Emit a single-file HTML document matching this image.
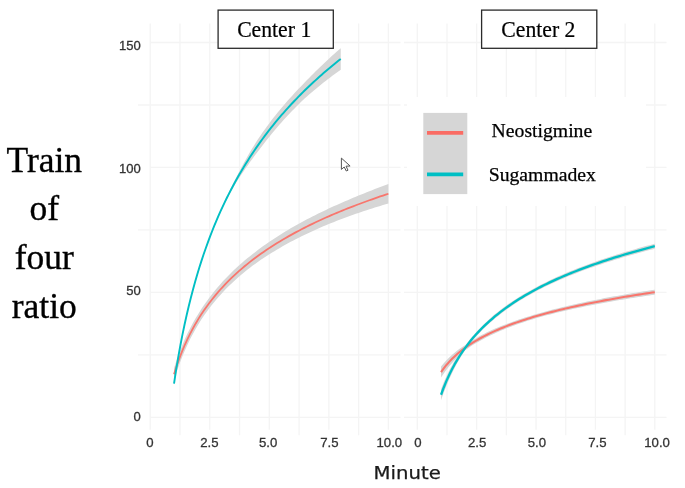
<!DOCTYPE html>
<html><head><meta charset="utf-8"><title>Train of four ratio</title>
<style>
html,body{margin:0;padding:0;background:#fff;}
body{width:685px;height:488px;overflow:hidden;position:relative;}
</style></head><body>
<svg width="685" height="488" viewBox="0 0 685 488" style="position:absolute;left:0;top:0">
<g stroke="#f4f4f4" stroke-width="1.3" fill="none"><line x1="150.20" y1="23.5" x2="150.20" y2="429.7"/><line x1="179.97" y1="23.5" x2="179.97" y2="435.3"/><line x1="209.75" y1="23.5" x2="209.75" y2="429.7"/><line x1="239.52" y1="23.5" x2="239.52" y2="435.3"/><line x1="269.30" y1="23.5" x2="269.30" y2="429.7"/><line x1="299.07" y1="23.5" x2="299.07" y2="435.3"/><line x1="328.85" y1="23.5" x2="328.85" y2="429.7"/><line x1="358.62" y1="23.5" x2="358.62" y2="435.3"/><line x1="388.40" y1="23.5" x2="388.40" y2="429.7"/><line x1="150" y1="417.40" x2="400.5" y2="417.40"/><line x1="138" y1="354.92" x2="400.5" y2="354.92"/><line x1="150" y1="292.44" x2="400.5" y2="292.44"/><line x1="138" y1="229.95" x2="400.5" y2="229.95"/><line x1="150" y1="167.47" x2="400.5" y2="167.47"/><line x1="138" y1="104.99" x2="400.5" y2="104.99"/><line x1="150" y1="42.50" x2="400.5" y2="42.50"/><line x1="417.30" y1="23.5" x2="417.30" y2="429.7"/><line x1="446.99" y1="23.5" x2="446.99" y2="435.3"/><line x1="476.68" y1="23.5" x2="476.68" y2="429.7"/><line x1="506.36" y1="23.5" x2="506.36" y2="435.3"/><line x1="536.05" y1="23.5" x2="536.05" y2="429.7"/><line x1="565.74" y1="23.5" x2="565.74" y2="435.3"/><line x1="595.42" y1="23.5" x2="595.42" y2="429.7"/><line x1="625.11" y1="23.5" x2="625.11" y2="435.3"/><line x1="654.80" y1="23.5" x2="654.80" y2="429.7"/><line x1="404" y1="417.40" x2="666.5" y2="417.40"/><line x1="404" y1="354.92" x2="666.5" y2="354.92"/><line x1="404" y1="292.44" x2="666.5" y2="292.44"/><line x1="404" y1="229.95" x2="666.5" y2="229.95"/><line x1="404" y1="167.47" x2="666.5" y2="167.47"/><line x1="404" y1="104.99" x2="666.5" y2="104.99"/><line x1="404" y1="42.50" x2="666.5" y2="42.50"/></g>
<rect x="407" y="97" width="239" height="109" fill="#ffffff"/>
<polygon points="174.02,382.39 176.13,368.63 178.24,355.99 180.35,344.30 182.46,333.42 184.57,323.27 186.68,313.74 188.79,304.77 190.91,296.29 193.02,288.26 195.13,280.63 197.24,273.37 199.35,266.44 201.46,259.81 203.57,253.45 205.68,247.36 207.79,241.50 209.90,235.86 212.01,230.42 214.12,225.17 216.23,220.11 218.34,215.20 220.45,210.45 222.56,205.77 224.68,201.12 226.79,196.60 228.90,192.20 231.01,187.92 233.12,183.74 235.23,179.49 237.34,175.30 239.45,171.19 241.56,167.18 243.67,163.25 245.78,159.40 247.89,155.63 250.00,152.08 252.11,148.60 254.22,145.18 256.33,141.83 258.45,138.55 260.56,135.38 262.67,132.37 264.78,129.41 266.89,126.51 269.00,123.66 271.11,120.86 273.22,118.11 275.33,115.43 277.44,112.82 279.55,110.24 281.66,107.71 283.77,105.22 285.88,102.77 287.99,100.36 290.10,97.99 292.22,95.65 294.33,93.34 296.44,91.07 298.55,88.83 300.66,86.63 302.77,84.45 304.88,82.31 306.99,80.10 309.10,77.92 311.21,75.77 313.32,73.64 315.43,71.54 317.54,69.47 319.65,67.42 321.76,65.39 323.87,63.39 325.99,61.41 328.10,59.45 330.21,57.52 332.32,55.61 334.43,53.71 336.54,51.84 338.65,49.99 340.76,48.16 340.76,69.65 338.65,71.16 336.54,72.69 334.43,74.23 332.32,75.80 330.21,77.39 328.10,79.00 325.99,80.63 323.87,82.28 321.76,83.96 319.65,85.66 317.54,87.39 315.43,89.14 313.32,90.91 311.21,92.71 309.10,94.54 306.99,96.40 304.88,98.29 302.77,100.30 300.66,102.34 298.55,104.41 296.44,106.51 294.33,108.65 292.22,110.81 290.10,113.02 287.99,115.26 285.88,117.53 283.77,119.85 281.66,122.20 279.55,124.60 277.44,127.03 275.33,129.51 273.22,132.02 271.11,134.55 269.00,137.13 266.89,139.76 264.78,142.44 262.67,145.17 260.56,147.96 258.45,150.71 256.33,153.46 254.22,156.28 252.11,159.16 250.00,162.12 247.89,165.14 245.78,168.10 243.67,171.13 241.56,174.25 239.45,177.45 237.34,180.74 235.23,184.13 233.12,187.67 231.01,191.48 228.90,195.41 226.79,199.46 224.68,203.63 222.56,207.92 220.45,212.47 218.34,217.24 216.23,222.16 214.12,227.25 212.01,232.52 209.90,237.98 207.79,243.64 205.68,249.52 203.57,255.64 201.46,262.02 199.35,268.67 197.24,275.63 195.13,282.91 193.02,290.56 190.91,298.62 188.79,307.11 186.68,316.11 184.57,325.66 182.46,335.83 180.35,346.73 178.24,358.44 176.13,371.11 174.02,384.89" fill="#d6d6d6"/>
<polygon points="174.02,368.19 176.73,359.82 179.45,352.28 182.16,345.41 184.87,339.11 187.59,333.29 190.30,327.88 193.02,322.84 195.73,318.11 198.44,313.63 201.16,309.35 203.87,305.28 206.58,301.41 209.30,297.73 212.01,294.18 214.73,290.78 217.44,287.52 220.15,284.39 222.87,281.37 225.58,278.46 228.29,275.66 231.01,272.95 233.72,270.33 236.43,267.79 239.15,265.33 241.86,262.94 244.58,260.62 247.29,258.36 250.00,256.17 252.72,254.00 255.43,251.88 258.14,249.81 260.86,247.80 263.57,245.83 266.28,243.90 269.00,242.02 271.71,240.18 274.43,238.39 277.14,236.63 279.85,234.90 282.57,233.21 285.28,231.56 287.99,229.93 290.71,228.34 293.42,226.78 296.14,225.24 298.85,223.73 301.56,222.24 304.28,220.78 306.99,219.34 309.70,217.92 312.42,216.53 315.13,215.16 317.84,213.81 320.56,212.48 323.27,211.17 325.99,209.88 328.70,208.61 331.41,207.35 334.13,206.12 336.84,204.90 339.55,203.70 342.27,202.51 344.98,201.34 347.69,200.18 350.41,199.02 353.12,197.86 355.84,196.72 358.55,195.59 361.26,194.48 363.98,193.38 366.69,192.29 369.40,191.21 372.12,190.14 374.83,189.09 377.55,188.05 380.26,187.02 382.97,186.00 385.69,184.99 388.40,183.99 388.40,203.49 385.69,204.29 382.97,205.09 380.26,205.91 377.55,206.74 374.83,207.58 372.12,208.43 369.40,209.30 366.69,210.17 363.98,211.06 361.26,211.96 358.55,212.88 355.84,213.80 353.12,214.74 350.41,215.70 347.69,216.67 344.98,217.68 342.27,218.71 339.55,219.75 336.84,220.81 334.13,221.89 331.41,222.98 328.70,224.10 325.99,225.22 323.27,226.37 320.56,227.54 317.84,228.73 315.13,229.94 312.42,231.16 309.70,232.42 306.99,233.69 304.28,234.99 301.56,236.31 298.85,237.66 296.14,239.03 293.42,240.44 290.71,241.87 287.99,243.34 285.28,244.83 282.57,246.35 279.85,247.91 277.14,249.50 274.43,251.13 271.71,252.80 269.00,254.50 266.28,256.24 263.57,258.02 260.86,259.85 258.14,261.72 255.43,263.65 252.72,265.62 250.00,267.66 247.29,269.79 244.58,271.97 241.86,274.23 239.15,276.55 236.43,278.94 233.72,281.42 231.01,283.97 228.29,286.61 225.58,289.35 222.87,292.19 220.15,295.14 217.44,298.21 214.73,301.40 212.01,304.74 209.30,308.23 206.58,311.91 203.87,315.78 201.16,319.84 198.44,324.13 195.73,328.74 193.02,333.64 190.30,338.85 187.59,344.43 184.87,350.42 182.16,356.89 179.45,363.93 176.73,371.65 174.02,380.19" fill="#d6d6d6"/>
<polygon points="441.05,389.25 443.76,382.32 446.46,376.13 449.17,370.54 451.87,365.46 454.58,360.81 457.28,356.52 459.99,352.55 462.70,348.86 465.40,345.34 468.11,341.75 470.81,338.36 473.52,335.14 476.22,332.08 478.93,329.16 481.64,326.38 484.34,323.72 487.05,321.16 489.75,318.71 492.46,316.35 495.16,314.08 497.87,311.89 500.58,309.78 503.28,307.74 505.99,305.76 508.69,303.85 511.40,301.99 514.10,300.20 516.81,298.45 519.52,296.75 522.22,295.10 524.93,293.49 527.63,291.93 530.34,290.40 533.04,288.91 535.75,287.46 538.46,286.03 541.16,284.62 543.87,283.25 546.57,281.90 549.28,280.59 551.98,279.30 554.69,278.04 557.39,276.81 560.10,275.60 562.81,274.41 565.51,273.25 568.22,272.10 570.92,270.98 573.63,269.88 576.33,268.80 579.04,267.74 581.75,266.69 584.45,265.67 587.16,264.66 589.86,263.67 592.57,262.69 595.27,261.73 597.98,260.78 600.69,259.85 603.39,258.93 606.10,258.03 608.80,257.14 611.51,256.26 614.21,255.39 616.92,254.54 619.63,253.70 622.33,252.87 625.04,252.05 627.74,251.24 630.45,250.44 633.15,249.66 635.86,248.88 638.57,248.11 641.27,247.36 643.98,246.61 646.68,245.87 649.39,245.14 652.09,244.42 654.80,243.71 654.80,248.71 652.09,249.40 649.39,250.09 646.68,250.80 643.98,251.52 641.27,252.24 638.57,252.98 635.86,253.72 633.15,254.47 630.45,255.24 627.74,256.01 625.04,256.80 622.33,257.59 619.63,258.40 616.92,259.22 614.21,260.05 611.51,260.89 608.80,261.75 606.10,262.61 603.39,263.50 600.69,264.39 597.98,265.30 595.27,266.22 592.57,267.16 589.86,268.12 587.16,269.09 584.45,270.07 581.75,271.08 579.04,272.10 576.33,273.14 573.63,274.20 570.92,275.28 568.22,276.37 565.51,277.49 562.81,278.64 560.10,279.80 557.39,280.99 554.69,282.20 551.98,283.44 549.28,284.70 546.57,285.99 543.87,287.31 541.16,288.66 538.46,290.04 535.75,291.46 533.04,292.93 530.34,294.44 527.63,295.98 524.93,297.57 522.22,299.19 519.52,300.86 516.81,302.58 514.10,304.35 511.40,306.17 508.69,308.04 505.99,309.97 503.28,311.97 500.58,314.03 497.87,316.16 495.16,318.37 492.46,320.66 489.75,323.03 487.05,325.50 484.34,328.08 481.64,330.76 478.93,333.56 476.22,336.50 473.52,339.58 470.81,342.81 468.11,346.23 465.40,349.83 462.70,353.94 459.99,358.37 457.28,363.07 454.58,368.10 451.87,373.49 449.17,379.31 446.46,385.64 443.76,392.58 441.05,400.25" fill="#d6d6d6"/>
<polygon points="441.05,366.57 443.76,363.17 446.46,360.13 449.17,357.40 451.87,354.91 454.58,352.64 457.28,350.55 459.99,348.62 462.70,346.83 465.40,345.09 468.11,343.21 470.81,341.43 473.52,339.74 476.22,338.13 478.93,336.59 481.64,335.12 484.34,333.71 487.05,332.35 489.75,331.05 492.46,329.80 495.16,328.59 497.87,327.42 500.58,326.30 503.28,325.21 505.99,324.15 508.69,323.13 511.40,322.13 514.10,321.17 516.81,320.23 519.52,319.32 522.22,318.43 524.93,317.57 527.63,316.73 530.34,315.91 533.04,315.10 535.75,314.32 538.46,313.53 541.16,312.75 543.87,311.99 546.57,311.25 549.28,310.52 551.98,309.80 554.69,309.10 557.39,308.41 560.10,307.74 562.81,307.07 565.51,306.42 568.22,305.78 570.92,305.16 573.63,304.54 576.33,303.93 579.04,303.33 581.75,302.75 584.45,302.17 587.16,301.60 589.86,301.04 592.57,300.49 595.27,299.95 597.98,299.41 600.69,298.89 603.39,298.37 606.10,297.85 608.80,297.35 611.51,296.85 614.21,296.36 616.92,295.88 619.63,295.40 622.33,294.92 625.04,294.46 627.74,294.00 630.45,293.54 633.15,293.09 635.86,292.65 638.57,292.21 641.27,291.78 643.98,291.35 646.68,290.93 649.39,290.51 652.09,290.10 654.80,289.69 654.80,294.69 652.09,295.07 649.39,295.46 646.68,295.86 643.98,296.26 641.27,296.66 638.57,297.07 635.86,297.49 633.15,297.91 630.45,298.34 627.74,298.77 625.04,299.21 622.33,299.65 619.63,300.10 616.92,300.55 614.21,301.02 611.51,301.49 608.80,301.96 606.10,302.44 603.39,302.93 600.69,303.43 597.98,303.93 595.27,304.45 592.57,304.97 589.86,305.49 587.16,306.03 584.45,306.58 581.75,307.13 579.04,307.70 576.33,308.27 573.63,308.85 570.92,309.45 568.22,310.05 565.51,310.67 562.81,311.30 560.10,311.94 557.39,312.59 554.69,313.25 551.98,313.93 549.28,314.63 546.57,315.33 543.87,316.06 541.16,316.79 538.46,317.55 535.75,318.32 533.04,319.14 530.34,319.98 527.63,320.84 524.93,321.72 522.22,322.63 519.52,323.55 516.81,324.50 514.10,325.48 511.40,326.48 508.69,327.51 505.99,328.57 503.28,329.67 500.58,330.79 497.87,331.96 495.16,333.16 492.46,334.41 489.75,335.70 487.05,337.04 484.34,338.43 481.64,339.88 478.93,341.39 476.22,342.97 473.52,344.61 470.81,346.35 468.11,348.16 465.40,350.08 462.70,352.36 459.99,354.83 457.28,357.45 454.58,360.22 451.87,363.18 449.17,366.34 446.46,369.76 443.76,373.48 441.05,377.57" fill="#d6d6d6"/>
<polyline points="174.02,374.19 176.73,365.73 179.45,358.10 182.16,351.15 184.87,344.76 187.59,338.86 190.30,333.37 193.02,328.24 195.73,323.42 198.44,318.88 201.16,314.59 203.87,310.53 206.58,306.66 209.30,302.98 212.01,299.46 214.73,296.09 217.44,292.87 220.15,289.76 222.87,286.78 225.58,283.91 228.29,281.14 231.01,278.46 233.72,275.87 236.43,273.37 239.15,270.94 241.86,268.58 244.58,266.30 247.29,264.07 250.00,261.91 252.72,259.81 255.43,257.76 258.14,255.77 260.86,253.82 263.57,251.92 266.28,250.07 269.00,248.26 271.71,246.49 274.43,244.76 277.14,243.07 279.85,241.41 282.57,239.78 285.28,238.19 287.99,236.64 290.71,235.11 293.42,233.61 296.14,232.14 298.85,230.69 301.56,229.28 304.28,227.88 306.99,226.51 309.70,225.17 312.42,223.85 315.13,222.55 317.84,221.27 320.56,220.01 323.27,218.77 325.99,217.55 328.70,216.35 331.41,215.17 334.13,214.00 336.84,212.86 339.55,211.73 342.27,210.61 344.98,209.51 347.69,208.43 350.41,207.36 353.12,206.30 355.84,205.26 358.55,204.23 361.26,203.22 363.98,202.22 366.69,201.23 369.40,200.25 372.12,199.29 374.83,198.34 377.55,197.40 380.26,196.47 382.97,195.55 385.69,194.64 388.40,193.74" fill="none" stroke="#F8766D" stroke-width="1.8" stroke-linejoin="round"/>
<polyline points="174.02,383.64 176.13,369.87 178.24,357.21 180.35,345.51 182.46,334.63 184.57,324.46 186.68,314.92 188.79,305.94 190.91,297.45 193.02,289.41 195.13,281.77 197.24,274.50 199.35,267.55 201.46,260.91 203.57,254.55 205.68,248.44 207.79,242.57 209.90,236.92 212.01,231.47 214.12,226.21 216.23,221.13 218.34,216.22 220.45,211.46 222.56,206.85 224.68,202.37 226.79,198.03 228.90,193.81 231.01,189.70 233.12,185.70 235.23,181.81 237.34,178.02 239.45,174.32 241.56,170.71 243.67,167.19 245.78,163.75 247.89,160.39 250.00,157.10 252.11,153.88 254.22,150.73 256.33,147.65 258.45,144.63 260.56,141.67 262.67,138.77 264.78,135.93 266.89,133.13 269.00,130.40 271.11,127.71 273.22,125.07 275.33,122.47 277.44,119.92 279.55,117.42 281.66,114.96 283.77,112.54 285.88,110.15 287.99,107.81 290.10,105.50 292.22,103.23 294.33,100.99 296.44,98.79 298.55,96.62 300.66,94.48 302.77,92.38 304.88,90.30 306.99,88.25 309.10,86.23 311.21,84.24 313.32,82.28 315.43,80.34 317.54,78.43 319.65,76.54 321.76,74.68 323.87,72.84 325.99,71.02 328.10,69.23 330.21,67.45 332.32,65.70 334.43,63.97 336.54,62.26 338.65,60.58 340.76,58.91" fill="none" stroke="#00BFC4" stroke-width="1.9" stroke-linejoin="round"/>
<polyline points="441.05,372.07 443.76,368.33 446.46,364.95 449.17,361.87 451.87,359.04 454.58,356.43 457.28,354.00 459.99,351.73 462.70,349.60 465.40,347.59 468.11,345.69 470.81,343.89 473.52,342.18 476.22,340.55 478.93,338.99 481.64,337.50 484.34,336.07 487.05,334.70 489.75,333.38 492.46,332.10 495.16,330.88 497.87,329.69 500.58,328.55 503.28,327.44 505.99,326.36 508.69,325.32 511.40,324.31 514.10,323.32 516.81,322.37 519.52,321.44 522.22,320.53 524.93,319.65 527.63,318.79 530.34,317.94 533.04,317.12 535.75,316.32 538.46,315.54 541.16,314.77 543.87,314.02 546.57,313.29 549.28,312.57 551.98,311.87 554.69,311.18 557.39,310.50 560.10,309.84 562.81,309.18 565.51,308.55 568.22,307.92 570.92,307.30 573.63,306.70 576.33,306.10 579.04,305.52 581.75,304.94 584.45,304.37 587.16,303.82 589.86,303.27 592.57,302.73 595.27,302.20 597.98,301.67 600.69,301.16 603.39,300.65 606.10,300.15 608.80,299.66 611.51,299.17 614.21,298.69 616.92,298.22 619.63,297.75 622.33,297.29 625.04,296.83 627.74,296.38 630.45,295.94 633.15,295.50 635.86,295.07 638.57,294.64 641.27,294.22 643.98,293.81 646.68,293.39 649.39,292.99 652.09,292.58 654.80,292.19" fill="none" stroke="#F8766D" stroke-width="2.1" stroke-linejoin="round"/>
<polyline points="441.05,394.75 443.76,387.45 446.46,380.88 449.17,374.93 451.87,369.48 454.58,364.45 457.28,359.80 459.99,355.46 462.70,351.40 465.40,347.58 468.11,343.99 470.81,340.59 473.52,337.36 476.22,334.29 478.93,331.36 481.64,328.57 484.34,325.90 487.05,323.33 489.75,320.87 492.46,318.51 495.16,316.23 497.87,314.03 500.58,311.90 503.28,309.85 505.99,307.87 508.69,305.94 511.40,304.08 514.10,302.27 516.81,300.51 519.52,298.81 522.22,297.15 524.93,295.53 527.63,293.95 530.34,292.42 533.04,290.92 535.75,289.46 538.46,288.03 541.16,286.64 543.87,285.28 546.57,283.95 549.28,282.64 551.98,281.37 554.69,280.12 557.39,278.90 560.10,277.70 562.81,276.52 565.51,275.37 568.22,274.24 570.92,273.13 573.63,272.04 576.33,270.97 579.04,269.92 581.75,268.89 584.45,267.87 587.16,266.87 589.86,265.89 592.57,264.93 595.27,263.98 597.98,263.04 600.69,262.12 603.39,261.21 606.10,260.32 608.80,259.44 611.51,258.57 614.21,257.72 616.92,256.88 619.63,256.05 622.33,255.23 625.04,254.42 627.74,253.63 630.45,252.84 633.15,252.07 635.86,251.30 638.57,250.55 641.27,249.80 643.98,249.06 646.68,248.34 649.39,247.62 652.09,246.91 654.80,246.21" fill="none" stroke="#00BFC4" stroke-width="2.3" stroke-linejoin="round"/>
<rect x="423.3" y="112.9" width="44" height="81.2" fill="#d6d6d6"/>
<line x1="427" y1="132.9" x2="463.2" y2="132.9" stroke="#fa6c64" stroke-width="3.8"/>
<line x1="427" y1="174.3" x2="463.2" y2="174.3" stroke="#00BFC4" stroke-width="3.8"/>
<g font-family="Liberation Serif, serif" font-size="19.7" fill="#000" stroke="#000" stroke-width="0.25" text-anchor="middle">
<text x="541.9" y="137.3">Neostigmine</text>
<text x="542.3" y="181">Sugammadex</text>
</g>
<rect x="218.1" y="10.1" width="115.2" height="38.2" fill="#fff" stroke="#2b2b2b" stroke-width="1.3"/>
<rect x="481.6" y="10.1" width="115.2" height="38.2" fill="#fff" stroke="#2b2b2b" stroke-width="1.3"/>
<g font-family="Liberation Serif, serif" font-size="21.5" fill="#000" stroke="#000" stroke-width="0.2" text-anchor="middle">
<text transform="translate(274.2,37) scale(1.01,1.07)">Center 1</text>
<text transform="translate(538.4,37) scale(1.01,1.07)">Center 2</text>
</g>
<g font-family="Liberation Sans, sans-serif" font-size="13.6" fill="#333" stroke="#333" stroke-width="0.3">
<text transform="translate(140.8,49.5) scale(0.96,1)" text-anchor="end">150</text>
<text transform="translate(140.8,172.6) scale(0.96,1)" text-anchor="end">100</text>
<text transform="translate(140.8,294.6) scale(0.96,1)" text-anchor="end">50</text>
<text transform="translate(140.8,420.7) scale(0.96,1)" text-anchor="end">0</text>
<text transform="translate(149.79999999999998,447.4) scale(0.97,1)" text-anchor="middle">0</text>
<text transform="translate(209.29999999999998,447.4) scale(0.97,1)" text-anchor="middle">2.5</text>
<text transform="translate(268.1,447.4) scale(0.97,1)" text-anchor="middle">5.0</text>
<text transform="translate(329.40000000000003,447.4) scale(0.97,1)" text-anchor="middle">7.5</text>
<text transform="translate(389.3,447.4) scale(0.97,1)" text-anchor="middle">10.0</text>
<text transform="translate(417.8,447.4) scale(0.97,1)" text-anchor="middle">0</text>
<text transform="translate(477.1,447.4) scale(0.97,1)" text-anchor="middle">2.5</text>
<text transform="translate(536.9,447.4) scale(0.97,1)" text-anchor="middle">5.0</text>
<text transform="translate(597.4,447.4) scale(0.97,1)" text-anchor="middle">7.5</text>
<text transform="translate(657.1,447.4) scale(0.97,1)" text-anchor="middle">10.0</text>
</g>
<text x="373.6" y="478.5" font-family="DejaVu Sans, sans-serif" font-size="17.5" fill="#1a1a1a" stroke="#1a1a1a" stroke-width="0.25" textLength="67.2" lengthAdjust="spacingAndGlyphs">Minute</text>
<g font-family="Liberation Serif, serif" font-size="35.5" fill="#000" stroke="#000" stroke-width="0.35" text-anchor="middle">
<text x="44.3" y="171.6">Train</text>
<text x="44.3" y="220">of</text>
<text x="44.3" y="268.6">four</text>
<text x="44.3" y="317.9">ratio</text>
</g>
<polygon points="341.4,158.1 341.4,169.4 344.2,167.0 346.3,171.0 348.0,170.2 346.0,166.2 350.1,166.0" fill="#fff" stroke="#555" stroke-width="1" stroke-linejoin="round"/>
</svg>
</body></html>
